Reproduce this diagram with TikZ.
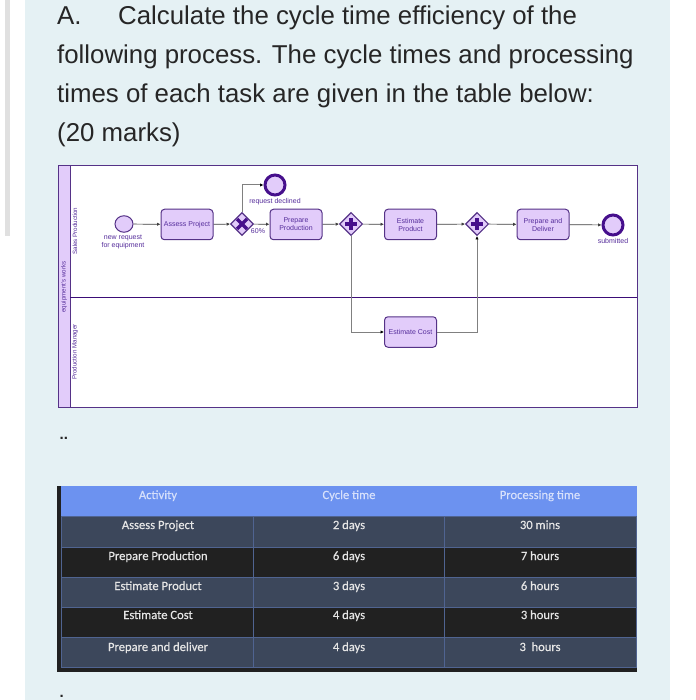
\documentclass[tikz,border=0pt]{standalone}
\usepackage{fontspec}
\setmainfont{Liberation Sans}
\newfontfamily\tablefont[FakeBold=0.35]{Carlito}
\usetikzlibrary{arrows.meta,shapes.geometric}
\definecolor{panelblue}{RGB}{229,241,244}
\definecolor{bpmnline}{RGB}{85,50,135}
\definecolor{bpmnfill}{RGB}{226,204,250}
\definecolor{bpmndark}{RGB}{70,15,140}
\definecolor{bpmntext}{RGB}{85,45,155}
\definecolor{headblue}{RGB}{108,146,240}
\definecolor{rowslate}{RGB}{60,71,91}
\definecolor{rowblack}{RGB}{33,33,33}
\definecolor{cellline}{RGB}{80,100,145}
\tikzset{
  task/.style={draw=bpmnline,fill=bpmnfill,line width=1pt,rounded corners=3.5pt,minimum width=52pt,minimum height=30.5pt,inner sep=0pt,align=center,text=bpmntext,font=\fontsize{7}{8}\selectfont},
  startev/.style={draw=bpmnline,fill=bpmnfill,ellipse,line width=1pt,minimum width=18pt,minimum height=16.5pt,inner sep=0pt},
  endev/.style={draw=bpmndark,fill=bpmnfill,circle,line width=3pt,minimum size=20pt,inner sep=0pt},
  gate/.style={draw=bpmnline,fill=bpmnfill,diamond,line width=1.1pt,minimum width=23pt,minimum height=23pt,inner sep=0pt},
  gatemark/.style={draw=bpmndark,line width=3.4pt},
  caption/.style={text=bpmntext,align=center,inner sep=0pt,font=\fontsize{7}{7.6}\selectfont},
  lanename/.style={text=bpmntext,rotate=90,inner sep=0pt,font=\fontsize{6.2}{7}\selectfont},
  flow/.style={draw=black!75,line width=.7pt,-{Latex[length=3.4pt,width=3.4pt]}},
  longflow/.style={draw=black!50,line width=1pt,-{Latex[length=3.4pt,width=3.4pt,black]}},
  heading/.style={anchor=base west,inner sep=0pt,text=black!85,font=\fontsize{25.82}{26}\selectfont},
  dotmark/.style={anchor=base west,inner sep=0pt,text=black!85,font=\bfseries\fontsize{15}{15}\selectfont},
  celltext/.style={anchor=base,text=white!90!black,inner sep=0pt,font=\tablefont\fontsize{12.6}{14}\selectfont},
  headtext/.style={anchor=base,text=white!72!headblue,inner sep=0pt,font=\tablefont\fontsize{12.6}{14}\selectfont},
}
\begin{document}
\begin{tikzpicture}[x=1pt,y=-1pt]
  \useasboundingbox (0,0) rectangle (695,700);
  \fill[white] (0,0) rectangle (695,700);
  \fill[panelblue] (25,0) rectangle (670,700);
  \fill[black!12] (5,0) rectangle (10,236);
  % question text
  \node[heading] (qa) at (57,25) {A.};
  \node[heading] (qb) at (118,25) {Calculate the cycle time efficiency of the};
  \node[heading] (qc) at (57,64) {following process. The cycle times and processing};
  \node[heading] (qd) at (57,103) {times of each task are given in the table below:};
  \node[heading] (qe) at (57,142) {(20 marks)};
  % pool and lanes
  \draw[bpmnline,line width=1pt,fill=white] (58,166) rectangle (637,407);
  \draw[bpmnline,line width=1pt,fill=bpmnfill] (58,166) rectangle (70,407);
  \draw[bpmndark!85!black,line width=1pt] (70,297) -- (637,297);
  \node[lanename] (poolname) at (64,287) {equipment's works};
  \node[lanename] (lanesales) at (75,231) {Sales Production};
  \node[lanename] (laneprod) at (75,352) {Production Manager};
  % events, tasks, gateways
  \node[startev] (newreq) at (124,224) {};
  \node[task] (assess) at (187,224.5) {Assess Project};
  \node[gate] (choice) at (242,224) {};
  \draw[gatemark] (choice.center) ++(-5,-5) -- ++(10,10) ++(0,-10) -- ++(-10,10);
  \node[endev] (declined) at (275,185) {};
  \node[task] (prepprod) at (296,224.5) {Prepare\\Production};
  \node[gate] (splitgw) at (351,224) {};
  \draw[gatemark] (splitgw.center) ++(-6,0) -- ++(12,0) ++(-6,-6) -- ++(0,12);
  \node[task] (estprod) at (410.5,224.5) {Estimate\\Product};
  \node[gate] (joingw) at (477,224) {};
  \draw[gatemark] (joingw.center) ++(-6,0) -- ++(12,0) ++(-6,-6) -- ++(0,12);
  \node[task] (deliver) at (543,224.5) {Prepare and\\Deliver};
  \node[endev] (submitted) at (613,225) {};
  \node[task] (estcost) at (410.5,332) {Estimate Cost};
  % captions
  \node[caption] (newreqtxt) at (123,242) {new request\\for equipment};
  \node[caption] (declinedtxt) at (275,201.5) {request declined};
  \node[caption] (sixty) at (258,231.5) {60\%};
  \node[caption] (submittedtxt) at (613,240.5) {submitted};
  % flows
  \draw[flow] (newreq) -- (assess);
  \draw[flow] (assess) -- (choice);
  \draw[flow] (choice) -- (prepprod);
  \draw[longflow] (choice.north) |- (declined.west);
  \draw[flow] (prepprod) -- (splitgw);
  \draw[flow] (splitgw) -- (estprod);
  \draw[flow] (estprod) -- (joingw);
  \draw[flow] (joingw) -- (deliver);
  \draw[flow] (deliver) -- (submitted);
  \draw[longflow] (splitgw.south) |- (estcost.west);
  \draw[longflow] (estcost.east) -| (joingw.south);
  % dots
  \node[dotmark] (dotsa) at (59.5,439) {..};
  \node[dotmark] (dotsb) at (59.5,697) {.};
  % table
  \fill[rowblack] (57,486) rectangle (637,672);
  \fill[headblue] (61,486) rectangle (637,516);
  \foreach \rowtop/\rowbot/\rowfill/\txty/\act/\cyc/\proc [count=\i] in {
    516/547/rowslate/529/Assess Project/2 days/30 mins,
    547/577/rowblack/560/Prepare Production/6 days/7 hours,
    577/607.5/rowslate/590/Estimate Product/3 days/6 hours,
    607.5/637.5/rowblack/619/Estimate Cost/4 days/3 hours,
    637.5/667/rowslate/651/Prepare and deliver/4 days/3\ \ hours} {
    \draw[cellline,line width=.6pt,fill=\rowfill] (61,\rowtop) rectangle (636,\rowbot);
    \node[celltext] (act\i) at (158,\txty) {\act};
    \node[celltext] (cyc\i) at (349,\txty) {\cyc};
    \node[celltext] (proc\i) at (540,\txty) {\proc};
  }
  \draw[cellline,line width=.6pt] (253,516) -- (253,667);
  \draw[cellline,line width=.8pt] (444,516) -- (444,667);
  \node[headtext] (headact) at (158,499) {Activity};
  \node[headtext] (headcyc) at (349,499) {Cycle time};
  \node[headtext] (headproc) at (540,499) {Processing time};
\end{tikzpicture}
\end{document}
